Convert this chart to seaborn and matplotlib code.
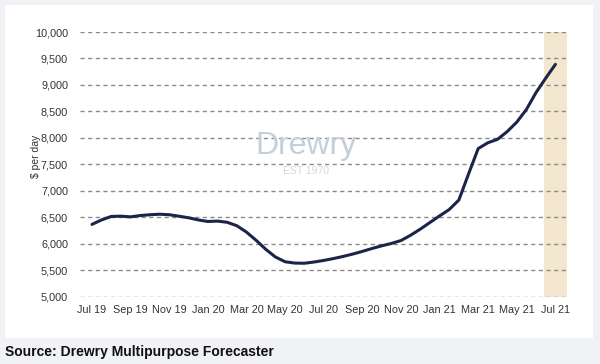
import numpy as np
import matplotlib
matplotlib.use("Agg")
import matplotlib.pyplot as plt
import pandas as pd
import seaborn as sns
from matplotlib.patches import Rectangle

# tick labels, one per month (Jul 19 .. Jul 21)
months = ["Jul 19", "Aug 19", "Sep 19", "Oct 19", "Nov 19", "Dec 19",
          "Jan 20", "Feb 20", "Mar 20", "Apr 20", "May 20", "Jun 20",
          "Jul 20", "Aug 20", "Sep 20", "Oct 20", "Nov 20", "Dec 20",
          "Jan 21", "Feb 21", "Mar 21", "Apr 21", "May 21", "Jun 21", "Jul 21"]
# charter rate every half month, $ per day
rate = [6370, 6455, 6520, 6525, 6512, 6537, 6552, 6562, 6552, 6525,
        6495, 6455, 6425, 6432, 6410, 6345, 6225, 6070, 5900, 5755,
        5665, 5640, 5637, 5660, 5690, 5725, 5765, 5810, 5860, 5915,
        5965, 6010, 6065, 6165, 6280, 6405, 6530, 6650, 6830, 7320,
        7800, 7910, 7975, 8120, 8300, 8540, 8860, 9130, 9390]
forecast_month = "Jul 21"
y_ticks = [5000, 5500, 6000, 6500, 7000, 7500, 8000, 8500, 9000, 9500, 10000]

df = pd.DataFrame({"t": np.arange(len(rate)) / 2, "rate": rate})

sns.set_style("white")
plt.rcParams["font.family"] = ["Liberation Sans", "DejaVu Sans"]

fig = plt.figure(figsize=(6, 3.64), dpi=100, facecolor="#f1f2f6")
# white card behind the chart
fig.patches.append(Rectangle((5 / 600, 1 - 338 / 364), 588 / 600, 333 / 364,
                             transform=fig.transFigure, facecolor="white",
                             edgecolor="none", zorder=-10))

ax = fig.add_axes([80 / 600, 1 - 297 / 364, 487 / 600, 265 / 364])
ax.set_zorder(1)
ax.set_facecolor("none")

# shaded forecast month
fi = months.index(forecast_month)
ax.axvspan(fi - 0.6, fi + 0.6, color="#f3e7cf", zorder=0, lw=0)

for t in y_ticks:
    ax.axhline(t, color="#8a8a8a", lw=1, ls=(0, (3, 2.5)), zorder=1)

# watermark
ax.text(0.465, 0.57, "Drewry", transform=ax.transAxes, ha="center", va="center",
        fontsize=23, color="#c4cfdb", zorder=1)
ax.text(0.465, 0.475, "EST 1970", transform=ax.transAxes, ha="center", va="center",
        fontsize=7.5, color="#d3d6da", zorder=1)

sns.lineplot(data=df, x="t", y="rate", ax=ax, color="#1c2449", lw=2.2,
             zorder=3, solid_capstyle="round", solid_joinstyle="round")

ax.set_xlim(-0.62, 24.6)
ax.set_ylim(5000, 10000)
ax.set_yticks(y_ticks)
ax.set_yticklabels([f"{v:,}" for v in y_ticks])
ax.set_xticks(range(0, len(months), 2))
ax.set_xticklabels(months[::2])
ax.tick_params(axis="both", length=0, labelsize=7.8, colors="#333333")
ax.tick_params(axis="y", pad=8.6)
ax.tick_params(axis="x", pad=6)
ax.set_xlabel("")
ax.set_ylabel("\\$ per day", fontsize=7.5, color="#333333")
ax.yaxis.set_label_coords(-0.081, 0.53)
for s in ax.spines.values():
    s.set_visible(False)

fig.text(5 / 600, 1 - 352 / 364, "Source: Drewry Multipurpose Forecaster",
         fontsize=10, fontweight="bold", color="#111111", va="center", ha="left")

fig.savefig("out.png", dpi=100, facecolor=fig.get_facecolor())
